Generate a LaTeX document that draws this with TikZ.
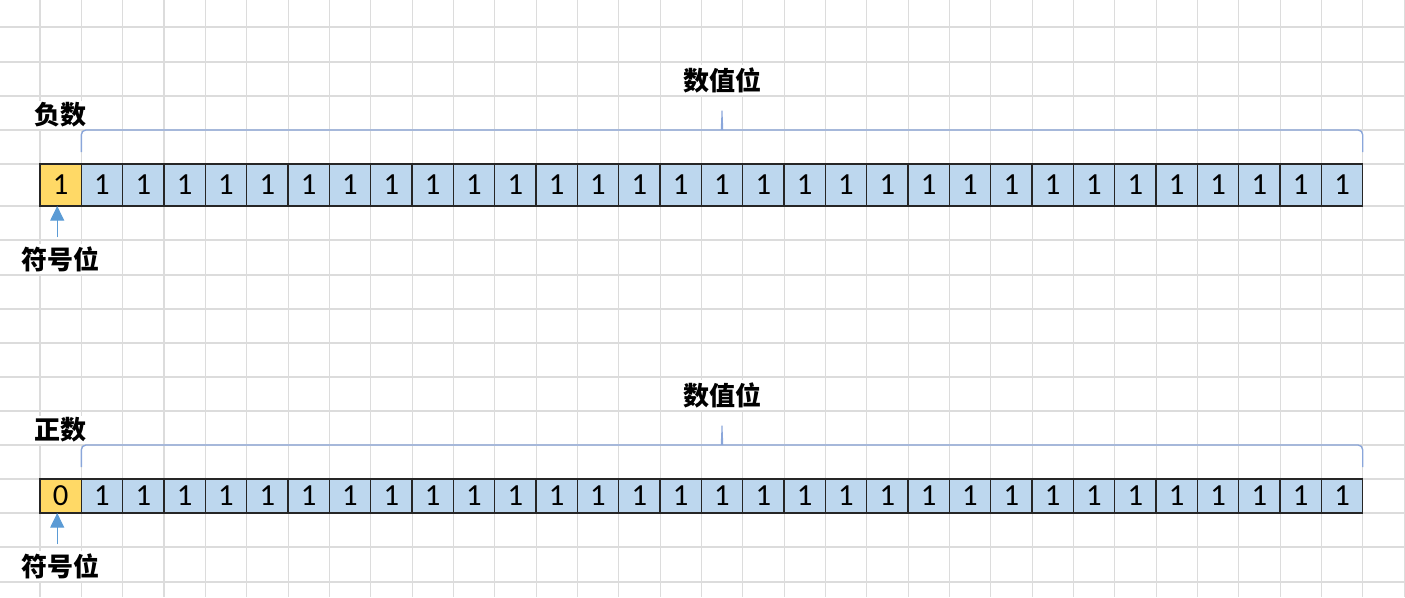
\documentclass[tikz,border=0pt]{standalone}
\usepackage{fontspec}
\newfontfamily\cjk{Noto Sans CJK SC}
\newfontfamily\digitfont{Carlito}
\usetikzlibrary{positioning, calc, arrows.meta}
\definecolor{signyellow}{HTML}{FFD966}
\definecolor{valblue}{HTML}{BDD7EE}
\definecolor{arrowblue}{HTML}{5B9BD5}
\definecolor{bracecol}{HTML}{8AA6DA}
\definecolor{gridgray}{HTML}{DCDCDC}
\tikzset{
    bitcell/.style={
           rectangle,
           draw=black!85, line width=0.9pt,
           minimum width=31pt,
           inner sep=0pt, outer sep=0pt,
           font=\digitfont\fontsize{23}{24}\selectfont,
           text centered,
           },
    signbit/.style={bitcell, fill=signyellow},
    valbit/.style={bitcell, fill=valblue},
    toprow/.style={minimum height=31.5pt},
    botrow/.style={minimum height=25.5pt},
    lbl/.style={fill=white, inner sep=1.5pt, font=\cjk\bfseries\fontsize{19.5}{20}\selectfont},
    bracepath/.style={draw=bracecol, line width=1pt, rounded corners=3.5pt},
    sgnarrow/.style={draw=arrowblue, line width=0.8pt, -{Triangle[length=11pt,width=10.5pt]}},
    gridline/.style={draw=gridgray, line width=0.8pt},
}

\begin{document}
\begin{tikzpicture}[x=0.75pt, y=-0.75pt]
      \useasboundingbox (0,0) rectangle (1405,597);
      \foreach \gx in {0,...,33}
        \draw[gridline] ({40+41.34*\gx},0) -- ({40+41.34*\gx},597);
      \foreach \gy in {27,62,96,130,164,206,240,275,309,343,377,411,445,479,513,547,582}
        \draw[gridline] (0,\gy) -- (1405,\gy);

      % negative number
      \node[signbit, toprow] (ns) at (60.67,185) {1};
      \node[valbit, toprow, right=0pt of ns] (n1) {1};
      \foreach \i [remember=\i as \j (initially 1)] in {2,...,31}
        \node[valbit, toprow, right=0pt of n\j] (n\i) {1};
      \coordinate (ntip) at ($(n1.north west)!.5!(n31.north east)+(0,-56)$);
      \draw[bracepath] ($(n1.north west)+(0,-12)$) |- ($(ntip)+(-5,22)$)
            .. controls +(4,0) and +(0,14) .. (ntip)
            .. controls +(0,14) and +(-4,0) .. ($(ntip)+(5,22)$)
            -| ($(n31.north east)+(0,-12)$);
      \node[lbl] (nval) at ($(ntip)+(0,-28)$) {数值位};
      \node[lbl] (nneg) at ($(ns.north)+(0,-49)$) {负数};
      \node[lbl] (nsgn) at ($(ns.south)+(0,53)$) {符号位};
      \draw[sgnarrow, shorten <=5pt] ([xshift=-2.6pt]nsgn.north) -- ([xshift=-2.6pt]ns.south);

      % positive number
      \node[signbit, botrow] (ps) at (60.67,496) {0};
      \node[valbit, botrow, right=0pt of ps] (p1) {1};
      \foreach \i [remember=\i as \j (initially 1)] in {2,...,31}
        \node[valbit, botrow, right=0pt of p\j] (p\i) {1};
      \coordinate (ptip) at ($(p1.north west)!.5!(p31.north east)+(0,-56)$);
      \draw[bracepath] ($(p1.north west)+(0,-12)$) |- ($(ptip)+(-5,22)$)
            .. controls +(4,0) and +(0,14) .. (ptip)
            .. controls +(0,14) and +(-4,0) .. ($(ptip)+(5,22)$)
            -| ($(p31.north east)+(0,-12)$);
      \node[lbl] (pval) at ($(ptip)+(0,-28)$) {数值位};
      \node[lbl] (ppos) at ($(ps.north)+(0,-49)$) {正数};
      \node[lbl] (psgn) at ($(ps.south)+(0,53)$) {符号位};
      \draw[sgnarrow, shorten <=5pt] ([xshift=-2.6pt]psgn.north) -- ([xshift=-2.6pt]ps.south);
\end{tikzpicture}
\end{document}
